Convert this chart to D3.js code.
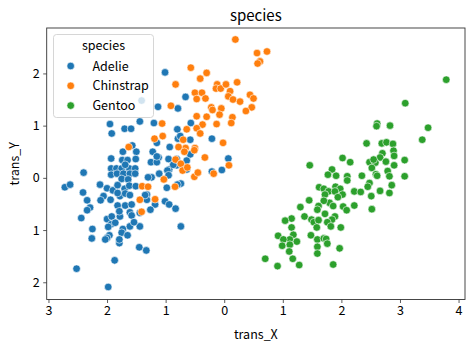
<!DOCTYPE html>
<html>
<head>
<meta charset="utf-8">
<script src="https://cdn.jsdelivr.net/npm/d3@7"></script>
<style>
  body { margin: 0; background: #fff; }
  svg text { font-family: "Noto Sans CJK KR", "Noto Sans", sans-serif; fill: #000; }
</style>
</head>
<body>
<div id="chart"></div>
<script>
// values
var species = ["Adelie", "Chinstrap", "Gentoo"];
var xTicks = [-3, -2, -1, 0, 1, 2, 3, 4];
var yTicks = [-2, -1, 0, 1, 2];

var adelieX = [-1.13,-0.66,-1.44,-1.95,-1.92,-1.70,-1.59,-1.20,-0.80,-0.57,-0.79,-0.75,-0.21,-1.57,-1.50,-1.73,-1.93,-0.93,-1.22,-1.12,
  -1.25,-1.15,-0.95,-0.81,-0.94,-0.81,-0.71,-0.64,0.07,-0.04,-0.21,-1.74,-1.65,-1.51,-1.93,-1.84,-1.75,-1.62,-1.52,-1.69,
  -1.93,-1.83,-1.72,-1.61,-1.52,-1.75,-1.64,-2.40,-1.24,-1.30,-0.97,-0.95,-0.98,-0.74,-2.72,-2.63,-2.12,-2.00,-1.90,-1.82,
  -1.70,-1.62,-1.51,-2.41,-2.06,-1.94,-1.78,-1.69,-1.61,-1.32,-1.32,-2.34,-2.29,-2.11,-1.82,-1.69,-1.58,-1.18,-1.01,-0.94,
  -0.83,-2.44,-2.25,-2.00,-1.92,-1.78,-1.79,-1.61,-1.58,-1.44,-1.93,-1.98,-1.73,-1.61,-1.44,-0.74,-1.96,-2.00,-2.26,-1.75,
  -1.65,-1.79,-1.45,-1.33,-1.87,-2.52,-1.98,-1.79,-2.34,-1.82,-1.35,-1.86,-1.54,-1.26,-2.03,-1.41,-1.01,-0.79,-0.58,-1.15,
  -1.15,-0.87,-0.58,-0.64,-1.11,-0.80];
var adelieY = [1.36,1.55,1.08,1.03,0.85,0.94,0.94,1.05,0.93,1.05,0.75,0.80,0.75,0.62,0.50,0.50,0.37,0.59,0.50,0.39,
  0.30,0.30,0.36,0.36,0.16,0.24,0.22,0.16,0.37,0.15,0.12,0.34,0.34,0.36,0.18,0.18,0.18,0.18,0.18,0.25,
  0.06,0.08,0.08,0.08,0.08,-0.02,-0.03,0.10,0.01,0.01,0.14,0.05,-0.19,-0.11,-0.18,-0.13,-0.13,-0.20,-0.24,-0.14,
  -0.21,-0.15,-0.16,-0.28,-0.35,-0.42,-0.35,-0.30,-0.33,-0.32,-0.42,-0.43,-0.57,-0.43,-0.53,-0.53,-0.51,-0.51,-0.45,-0.51,
  -0.59,-0.77,-0.98,-0.79,-0.74,-0.74,-0.64,-0.66,-0.72,-0.67,-0.89,-0.94,-0.98,-0.93,-0.93,-0.93,-1.10,-1.15,-1.16,-1.05,
  -1.10,-1.25,-1.33,-1.39,-1.58,-1.74,-2.09,-1.18,-0.62,-0.29,-0.33,-0.86,-0.85,-0.61,-1.18,1.48,2.02,1.33,0.73,0.67,
  0.41,0.25,0.45,0.33,0.08,-0.13];

var chinstrapX = [0.19,0.56,0.73,0.61,0.57,-0.57,-0.30,-0.41,-0.83,-0.12,-0.14,-0.06,0.03,0.22,0.10,0.07,0.15,-0.50,-0.38,-0.47,
  -0.32,0.27,0.44,0.50,0.47,0.37,-0.91,-0.22,-0.20,-0.05,-0.47,-0.30,-0.08,0.14,-1.06,-0.37,-0.13,0.12,-0.64,-0.47,
  -0.41,-1.05,-1.19,-0.70,-0.02,-0.66,-0.78,-0.50,-0.68,-0.51,-0.83,-0.74,-0.71,-0.63,-0.33,-0.51,-0.45,-0.18,0.08,-1.03,
  -0.84,-1.18,-1.63,-1.40,-1.30,-1.44,-1.41];
var chinstrapY = [2.65,2.39,2.42,2.23,2.19,2.11,2.01,1.90,1.79,1.79,1.71,1.71,1.79,1.83,1.66,1.56,1.50,1.63,1.63,1.51,
  1.52,1.46,1.59,1.52,1.35,1.28,1.38,1.35,1.30,1.33,1.18,1.17,1.21,1.16,1.04,1.02,1.03,1.05,0.93,0.95,
  0.85,0.80,0.75,0.73,0.67,0.57,0.59,0.57,0.50,0.53,0.35,0.27,0.14,0.20,0.39,0.02,0.10,0.08,0.24,-0.03,
  -0.17,-0.41,0.59,-0.16,-0.17,-0.42,-0.65];

var gentooX = [3.79,3.09,3.48,3.38,2.61,2.60,2.83,2.43,2.69,2.77,2.88,2.89,2.90,2.70,2.66,3.08,3.08,2.02,2.15,2.48,
  2.58,2.55,2.52,2.76,2.90,2.79,2.59,2.61,2.82,1.46,1.84,1.77,1.91,2.10,2.10,2.35,2.48,2.45,2.86,2.82,
  2.66,2.51,2.22,2.33,1.62,1.70,1.78,1.90,1.98,2.02,1.89,1.94,1.72,1.80,1.70,1.45,1.30,1.61,1.59,1.86,
  2.03,2.09,2.22,2.52,1.72,1.89,1.84,1.37,1.49,1.53,1.61,1.76,1.82,1.99,1.58,1.15,1.04,1.15,1.18,1.12,
  1.24,0.92,1.01,0.99,1.12,1.11,1.48,1.59,1.70,1.74,1.76,1.59,1.59,1.97,0.70,0.91,1.17,1.28,1.86];
var gentooY = [1.88,1.43,0.96,0.73,1.04,0.99,1.00,0.66,0.66,0.68,0.65,0.52,0.42,0.47,0.39,0.34,0.03,0.38,0.30,0.30,
  0.29,0.35,0.19,0.31,0.24,0.13,0.07,0.04,0.03,0.24,0.16,0.06,0.04,0.03,-0.05,0.04,-0.10,-0.17,-0.14,-0.29,
  -0.25,-0.35,-0.26,-0.27,-0.18,-0.21,-0.26,-0.17,-0.21,-0.32,-0.26,-0.37,-0.32,-0.48,-0.44,-0.43,-0.56,-0.54,-0.61,-0.54,
  -0.55,-0.62,-0.53,-0.60,-0.69,-0.74,-0.80,-0.74,-0.80,-0.85,-0.81,-0.85,-0.93,-0.95,-0.95,-0.78,-0.82,-0.95,-1.09,-1.18,
  -1.22,-1.11,-1.18,-1.30,-1.28,-1.41,-1.10,-1.18,-1.16,-1.17,-1.26,-1.32,-1.45,-1.35,-1.55,-1.69,-1.55,-1.67,-1.66];

var colors = ["#1f77b4", "#ff7f0e", "#2ca02c"];

var WIDTH = 474, HEIGHT = 350;
var MARGIN = { LEFT: 46.7, RIGHT: 9, TOP: 28, BOTTOM: 50.5 };

var points = [];
[[adelieX, adelieY], [chinstrapX, chinstrapY], [gentooX, gentooY]].forEach(function(s, i) {
    s[0].forEach(function(v, j) { points.push({ x: v, y: s[1][j], s: species[i] }); });
});

var svg = d3.select("#chart").append("svg")
    .attr("width", WIDTH)
    .attr("height", HEIGHT);

var x = d3.scaleLinear().domain([-3.03, 4.11]).range([MARGIN.LEFT, WIDTH - MARGIN.RIGHT]);
var y = d3.scaleLinear().domain([-2.33, 2.87]).range([HEIGHT - MARGIN.BOTTOM, MARGIN.TOP]);
var color = d3.scaleOrdinal().domain(species).range(colors);

// the font in the reference has no minus sign, so the labels show bare numbers
var fmt = function(d) { return String(Math.abs(d)); };

var xAxis = svg.append("g")
    .attr("transform", "translate(0," + (HEIGHT - MARGIN.BOTTOM) + ")")
    .call(d3.axisBottom(x).tickValues(xTicks).tickFormat(fmt).tickSize(3.5).tickPadding(3.5));
var yAxis = svg.append("g")
    .attr("transform", "translate(" + MARGIN.LEFT + ",0)")
    .call(d3.axisLeft(y).tickValues(yTicks).tickFormat(fmt).tickSize(3.5).tickPadding(3.5));
[xAxis, yAxis].forEach(function(a) {
    a.select(".domain").remove();
    a.selectAll("line").attr("stroke", "#333").attr("stroke-width", 0.8);
    a.selectAll("text").style("font-size", "12.5px");
});

svg.append("g")
    .selectAll("circle")
    .data(points)
    .enter()
    .append("circle")
    .attr("cx", function(d) { return x(d.x); })
    .attr("cy", function(d) { return y(d.y); })
    .attr("r", 3.8)
    .attr("fill", function(d) { return color(d.s); })
    .attr("stroke", "white")
    .attr("stroke-width", 0.6);

// frame
svg.append("rect")
    .attr("x", MARGIN.LEFT).attr("y", MARGIN.TOP)
    .attr("width", WIDTH - MARGIN.RIGHT - MARGIN.LEFT)
    .attr("height", HEIGHT - MARGIN.BOTTOM - MARGIN.TOP)
    .attr("fill", "none").attr("stroke", "#333").attr("stroke-width", 0.9);

svg.append("text")
    .attr("x", (MARGIN.LEFT + WIDTH - MARGIN.RIGHT) / 2).attr("y", 21)
    .attr("text-anchor", "middle").style("font-size", "15px")
    .text("species");
svg.append("text")
    .attr("x", (MARGIN.LEFT + WIDTH - MARGIN.RIGHT) / 2).attr("y", 339)
    .attr("text-anchor", "middle").style("font-size", "12.5px")
    .text("trans_X");
svg.append("text")
    .attr("transform", "translate(19," + ((MARGIN.TOP + HEIGHT - MARGIN.BOTTOM) / 2) + ") rotate(-90)")
    .attr("text-anchor", "middle").style("font-size", "12.5px")
    .text("trans_Y");

// legend
var legend = svg.append("g");
legend.append("rect")
    .attr("x", 53.5).attr("y", 34.5).attr("width", 100).attr("height", 83)
    .attr("rx", 3)
    .attr("fill", "white").attr("fill-opacity", 0.8)
    .attr("stroke", "#ccc").attr("stroke-width", 0.8);
legend.append("text")
    .attr("x", 103.5).attr("y", 50)
    .attr("text-anchor", "middle").style("font-size", "12.5px")
    .text("species");
var item = legend.selectAll(".item")
    .data(species)
    .enter()
    .append("g")
    .attr("transform", function(d, i) { return "translate(0," + (66 + i * 19.8) + ")"; });
item.append("circle")
    .attr("cx", 70.7).attr("r", 3.8)
    .attr("fill", function(d) { return color(d); })
    .attr("stroke", "white").attr("stroke-width", 0.6);
item.append("text")
    .attr("x", 92.5).attr("y", 4.5)
    .style("font-size", "12.5px")
    .text(function(d) { return d; });
</script>
</body>
</html>
